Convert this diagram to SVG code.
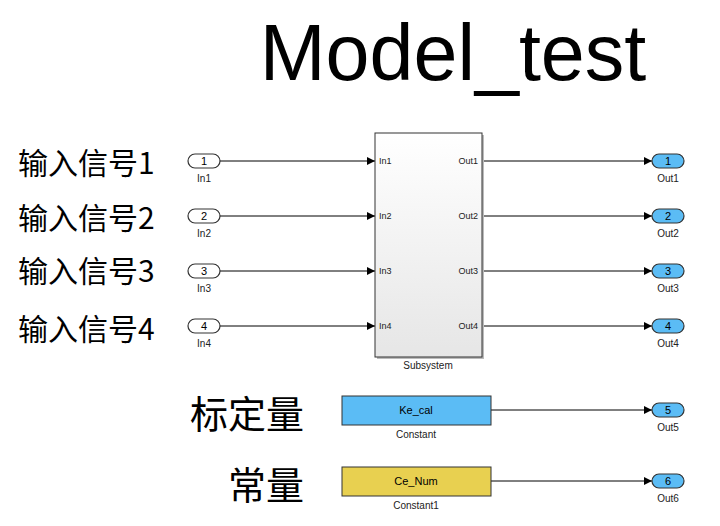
<svg xmlns="http://www.w3.org/2000/svg" width="720" height="526" viewBox="0 0 720 526">
<style>
text{font-family:"Liberation Sans",Arial,sans-serif}
.cn{font-family:"Noto Sans CJK SC",sans-serif;font-size:30px;fill:#000}
.cs{font-family:"Noto Sans CJK SC",serif;font-size:38px;fill:#000}
.port{stroke:#333;stroke-width:1.2}
.in{fill:#fff}
.out{fill:#5bbcf5}
.num{font-size:11px;text-anchor:middle}
.lbl{font-size:10px;text-anchor:middle;fill:#222}
.pl{font-size:9px;fill:#222}
.ln{stroke:#000;stroke-width:1;fill:none;marker-end:url(#a)}
</style>
<defs>
<marker id="a" markerWidth="8" markerHeight="8" refX="8" refY="4" orient="auto" markerUnits="userSpaceOnUse"><path d="M0,0 L8,4 L0,8 z" fill="#000"/></marker>
<linearGradient id="g" x1="0" y1="0" x2="0" y2="1"><stop offset="0" stop-color="#fff"/><stop offset="1" stop-color="#e6e6e6"/></linearGradient>
</defs>
<rect width="720" height="526" fill="#fff"/>
<text x="453" y="80" font-size="79" text-anchor="middle">Model_test</text>
<text class="cn" x="18" y="174">输入信号1</text>
<text class="cn" x="18" y="229">输入信号2</text>
<text class="cn" x="18" y="282">输入信号3</text>
<text class="cn" x="18" y="340">输入信号4</text>
<text class="cs" x="190" y="428">标定量</text>
<text class="cs" x="228" y="499">常量</text>
<g id="connectors">
<path class="ln" d="M220,161 H375"/><path class="ln" d="M220,216 H375"/><path class="ln" d="M220,271 H375"/><path class="ln" d="M220,326 H375"/>
<path class="ln" d="M482,161 H652"/><path class="ln" d="M482,216 H652"/><path class="ln" d="M482,271 H652"/><path class="ln" d="M482,326 H652"/>
<path class="ln" d="M491,410 H652"/><path class="ln" d="M491,481 H652"/>
</g>
<g id="In1"><rect class="port in" x="188" y="154" width="32" height="14" rx="7"/><text class="num" x="204" y="165">1</text><text class="lbl" x="204" y="182">In1</text></g>
<g id="In2"><rect class="port in" x="188" y="209" width="32" height="14" rx="7"/><text class="num" x="204" y="220">2</text><text class="lbl" x="204" y="237">In2</text></g>
<g id="In3"><rect class="port in" x="188" y="264" width="32" height="14" rx="7"/><text class="num" x="204" y="275">3</text><text class="lbl" x="204" y="292">In3</text></g>
<g id="In4"><rect class="port in" x="188" y="319" width="32" height="14" rx="7"/><text class="num" x="204" y="330">4</text><text class="lbl" x="204" y="347">In4</text></g>
<g id="Subsystem">
<rect x="377" y="135" width="107" height="224" fill="#bbb"/>
<rect x="375" y="133" width="107" height="224" fill="url(#g)" stroke="#333" stroke-width="1"/>
<text class="pl" x="379" y="164">In1</text><text class="pl" x="379" y="219">In2</text><text class="pl" x="379" y="274">In3</text><text class="pl" x="379" y="329">In4</text>
<text class="pl" x="478" y="164" text-anchor="end">Out1</text><text class="pl" x="478" y="219" text-anchor="end">Out2</text><text class="pl" x="478" y="274" text-anchor="end">Out3</text><text class="pl" x="478" y="329" text-anchor="end">Out4</text>
<text class="lbl" x="428" y="369">Subsystem</text>
</g>
<g id="Out1"><rect class="port out" x="652" y="154" width="32" height="14" rx="7"/><text class="num" x="668" y="165">1</text><text class="lbl" x="668" y="182">Out1</text></g>
<g id="Out2"><rect class="port out" x="652" y="209" width="32" height="14" rx="7"/><text class="num" x="668" y="220">2</text><text class="lbl" x="668" y="237">Out2</text></g>
<g id="Out3"><rect class="port out" x="652" y="264" width="32" height="14" rx="7"/><text class="num" x="668" y="275">3</text><text class="lbl" x="668" y="292">Out3</text></g>
<g id="Out4"><rect class="port out" x="652" y="319" width="32" height="14" rx="7"/><text class="num" x="668" y="330">4</text><text class="lbl" x="668" y="347">Out4</text></g>
<g id="Constant"><rect x="342" y="396" width="149" height="29" fill="#5bbcf5" stroke="#333"/><text x="416" y="414" font-size="11" text-anchor="middle">Ke_cal</text><text class="lbl" x="416" y="438">Constant</text></g>
<g id="Constant1"><rect x="342" y="467" width="149" height="29" fill="#e8d050" stroke="#333"/><text x="416" y="485" font-size="11" text-anchor="middle">Ce_Num</text><text class="lbl" x="416" y="509">Constant1</text></g>
<g id="Out5"><rect class="port out" x="652" y="403" width="32" height="14" rx="7"/><text class="num" x="668" y="414">5</text><text class="lbl" x="668" y="431">Out5</text></g>
<g id="Out6"><rect class="port out" x="652" y="474" width="32" height="14" rx="7"/><text class="num" x="668" y="485">6</text><text class="lbl" x="668" y="502">Out6</text></g>
</svg>
